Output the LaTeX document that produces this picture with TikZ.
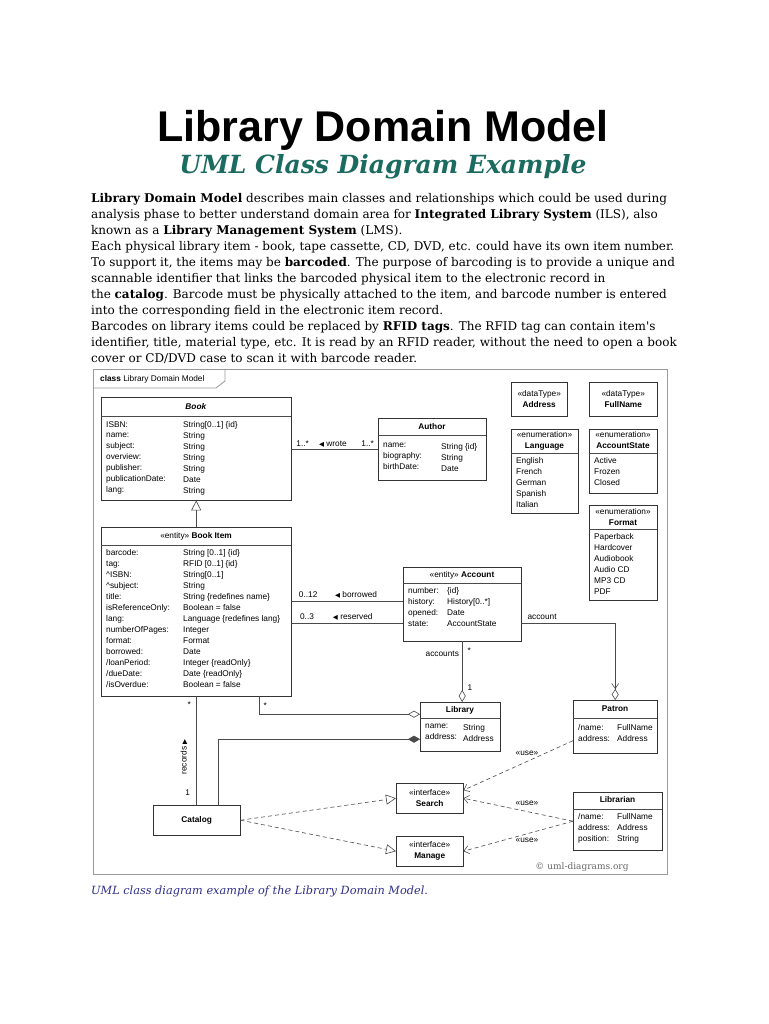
\documentclass[tikz,border=0pt]{standalone}
\usepackage{fontspec}
\setmainfont{DejaVu Serif}
\setsansfont{Liberation Sans}
\newfontfamily\symfont{DejaVu Sans}
\usetikzlibrary{arrows.meta}

\definecolor{titlegreen}{HTML}{1B6B60}
\definecolor{captionblue}{HTML}{2E2E8A}
\definecolor{umlgray}{HTML}{4A4A4A}
\definecolor{framegray}{HTML}{9A9A9A}

\newcommand\umlfont{\sffamily\fontsize{8.3}{11}\selectfont}
\newcommand\lefttri{{\symfont\fontsize{6.5}{6.5}\selectfont◀}}
\newcommand\righttri{{\symfont\fontsize{6.5}{6.5}\selectfont▶}}

\tikzset{
  umlbox/.style={draw=black!80, fill=white, inner sep=0pt, anchor=north west, font=\umlfont, align=center},
  umlhead/.style={font=\umlfont, inner sep=0pt, align=center, anchor=north, execute at begin node=\strut},
  umlattr/.style={font=\umlfont, inner sep=0pt, align=left, anchor=north west, execute at begin node=\strut},
  umllabel/.style={font=\umlfont, inner sep=0pt},
  umlline/.style={draw=umlgray, line width=0.6pt},
  umldash/.style={umlline, dash pattern=on 4pt off 3pt},
  generalize/.style={umlline, -{Triangle[open, length=10pt, width=10pt]}},
  aggregate/.style={umlline, -{Diamond[open, length=12pt, width=7pt]}},
  compose/.style={umlline, -{Diamond[length=12pt, width=7pt]}},
  realize/.style={umldash, -{Triangle[open, length=10pt, width=10pt]}},
  usedep/.style={umldash, -{Straight Barb[length=5pt, width=8pt]}},
}

\begin{document}
\begin{tikzpicture}[x=1pt, y=-1pt]
	\fill[white] (0,0) rectangle (768,1024);
	\useasboundingbox (0,0) rectangle (768,1024);

	% Title
	\node[font=\sffamily\bfseries\fontsize{43}{43}\selectfont, anchor=base] (title) at (383,142) {Library Domain Model};
	\node[font=\rmfamily\bfseries\itshape\fontsize{25}{25}\selectfont, text=titlegreen, anchor=base] (subtitle) at (383,174) {UML Class Diagram Example};

	% Description
	\node[font=\fontsize{12}{16}\selectfont, align=left, anchor=north west, inner sep=0pt, execute at begin node=\strut] (intro) at (91,193) {%
		\textbf{Library Domain Model} describes main classes and relationships which could be used during\\
		analysis phase to better understand domain area for \textbf{Integrated Library System} (ILS), also\\
		known as a \textbf{Library Management System} (LMS).\\
		Each physical library item - book, tape cassette, CD, DVD, etc. could have its own item number.\\
		To support it, the items may be \textbf{barcoded}. The purpose of barcoding is to provide a unique and\\
		scannable identifier that links the barcoded physical item to the electronic record in\\
		the \textbf{catalog}. Barcode must be physically attached to the item, and barcode number is entered\\
		into the corresponding field in the electronic item record.\\
		Barcodes on library items could be replaced by \textbf{RFID tags}. The RFID tag can contain item\textquotesingle s\\
		identifier, title, material type, etc. It is read by an RFID reader, without the need to open a book\\
		cover or CD/DVD case to scan it with barcode reader.};

	% Frame
	\draw[framegray, line width=1pt] (93,369) rectangle (667,874);
	\draw[framegray, line width=0.8pt] (93,388) -- (216,388) -- (225,381) -- (225,369);
	\node[umllabel, anchor=west] (frametitle) at (100,379) {\textbf{class} Library Domain Model};

	% Book
	\node[umlbox, minimum width=190pt, minimum height=103pt] (book) at (101,397) {};
	\node[umlhead] at (196,402) {\textbf{\textit{Book}}};
	\draw[umlgray] (101,416) -- (291,416);
	\node[umlattr] at (106,421) {ISBN:\\name:\\subject:\\overview:\\publisher:\\publicationDate:\\lang:};
	\node[umlattr] at (183,421) {String[0..1] \{id\}\\String\\String\\String\\String\\Date\\String};

	% Book Item
	\node[umlbox, minimum width=190pt, minimum height=169pt] (bookitem) at (101,527) {};
	\node[umlhead] at (196,531) {«entity» \textbf{Book Item}};
	\draw[umlgray] (101,545) -- (291,545);
	\node[umlattr] at (106,549) {barcode:\\tag:\\\textasciicircum ISBN:\\\textasciicircum subject:\\title:\\isReferenceOnly:\\lang:\\numberOfPages:\\format:\\borrowed:\\/loanPeriod:\\/dueDate:\\/isOverdue:};
	\node[umlattr] at (183,549) {String [0..1] \{id\}\\RFID [0..1] \{id\}\\String[0..1]\\String\\String \{redefines name\}\\Boolean = false\\Language \{redefines lang\}\\Integer\\Format\\Date\\Integer \{readOnly\}\\Date \{readOnly\}\\Boolean = false};

	% Author
	\node[umlbox, minimum width=108pt, minimum height=62pt] (author) at (378,418) {};
	\node[umlhead] at (432,422) {\textbf{Author}};
	\draw[umlgray] (378,435) -- (486,435);
	\node[umlattr] at (383,443) {name:\\biography:\\birthDate:};
	\node[umlattr] at (441,443) {String \{id\}\\String\\Date};

	% Data types
	\node[umlbox, minimum width=56pt, minimum height=34pt] (address) at (511,382) {«dataType»\\\textbf{Address}};
	\node[umlbox, minimum width=68pt, minimum height=34pt] (fullname) at (589,382) {«dataType»\\\textbf{FullName}};

	% Enumerations
	\node[umlbox, minimum width=67pt, minimum height=84pt] (language) at (511,429) {};
	\node[umlhead] at (544.5,431) {«enumeration»\\\textbf{Language}};
	\draw[umlgray] (511,453) -- (578,453);
	\node[umlattr] at (516,457) {English\\French\\German\\Spanish\\Italian};

	\node[umlbox, minimum width=68pt, minimum height=64pt] (accountstate) at (589,429) {};
	\node[umlhead] at (623,431) {«enumeration»\\\textbf{AccountState}};
	\draw[umlgray] (589,453) -- (657,453);
	\node[umlattr] at (594,457) {Active\\Frozen\\Closed};

	\node[umlbox, minimum width=68pt, minimum height=95pt] (format) at (589,505) {};
	\node[umlhead] at (623,508) {«enumeration»\\\textbf{Format}};
	\draw[umlgray] (589,529) -- (657,529);
	\node[umlattr] at (594,533) {Paperback\\Hardcover\\Audiobook\\Audio CD\\MP3 CD\\PDF};

	% Account
	\node[umlbox, minimum width=118pt, minimum height=74pt] (account) at (403,567) {};
	\node[umlhead] at (462,570) {«entity» \textbf{Account}};
	\draw[umlgray] (403,583) -- (521,583);
	\node[umlattr] at (408,587) {number:\\history:\\opened:\\state:};
	\node[umlattr] at (447,587) {\{id\}\\History[0..*]\\Date\\AccountState};

	% Library
	\node[umlbox, minimum width=80pt, minimum height=49pt] (library) at (420,702) {};
	\node[umlhead] at (460,705) {\textbf{Library}};
	\draw[umlgray] (420,718) -- (500,718);
	\node[umlattr] at (425,724) {name:\\address:};
	\node[umlattr] at (463,724) {String\\Address};

	% Patron
	\node[umlbox, minimum width=84pt, minimum height=53pt] (patron) at (573,700) {};
	\node[umlhead] at (615,704) {\textbf{Patron}};
	\draw[umlgray] (573,718) -- (657,718);
	\node[umlattr] at (578,724) {/name:\\address:};
	\node[umlattr] at (617,724) {FullName\\Address};

	% Librarian
	\node[umlbox, minimum width=89pt, minimum height=58pt] (librarian) at (573,792) {};
	\node[umlhead] at (617.5,795) {\textbf{Librarian}};
	\draw[umlgray] (573,809) -- (662,809);
	\node[umlattr] at (578,813) {/name:\\address:\\position:};
	\node[umlattr] at (617,813) {FullName\\Address\\String};

	% Interfaces and Catalog
	\node[umlbox, minimum width=67pt, minimum height=30pt] (search) at (396,783) {«interface»\\\textbf{Search}};
	\node[umlbox, minimum width=67pt, minimum height=30pt] (manage) at (396,836) {«interface»\\\textbf{Manage}};
	\node[umlbox, minimum width=87pt, minimum height=30pt] (catalog) at (153,805) {\textbf{Catalog}};

	% Book Item is a Book
	\draw[generalize] (bookitem.north) -- (book.south);

	% wrote
	\draw[umlline] (book.east |- author.west) -- node[umllabel, pos=0.13, above=2pt] {1..*} node[umllabel, pos=0.48, above=2pt] {\lefttri\ wrote} node[umllabel, pos=0.88, above=2pt] {1..*} (author.west);

	% borrowed, reserved
	\coordinate (borrowedEnd) at ([yshift=3pt]account.west);
	\coordinate (reservedEnd) at ([yshift=-19pt]account.west);
	\draw[umlline] (bookitem.east |- borrowedEnd) -- node[umllabel, pos=0.15, above=3pt] {0..12} node[umllabel, pos=0.58, above=3pt] {\lefttri\ borrowed} (borrowedEnd);
	\draw[umlline] (bookitem.east |- reservedEnd) -- node[umllabel, pos=0.14, above=3pt] {0..3} node[umllabel, pos=0.55, above=3pt] {\lefttri\ reserved} (reservedEnd);

	% account
	\coordinate (accountStart) at ([yshift=-19pt]account.east);
	\draw[umlline, -{Straight Barb[length=5pt, width=7pt] Diamond[open, length=11pt, width=7pt]}] (accountStart) -| node[umllabel, pos=0.11, above=3pt] {account} (patron.north);

	% accounts
	\draw[aggregate] (account.south) -- node[umllabel, pos=0.2, left=3pt] {accounts} node[umllabel, pos=0.16, right=5pt] {*} node[umllabel, pos=0.77, right=5pt] {1} (account.south |- library.north);

	% Library has Book Items and a Catalog
	\coordinate (itemsEnd) at ([yshift=12.5pt]library.west);
	\coordinate (catalogEnd) at ([yshift=-12.5pt]library.west);
	\draw[aggregate] ([xshift=63pt]bookitem.south) |- node[umllabel, pos=0.25, right=4pt] {*} (itemsEnd);
	\draw[compose] ([xshift=22pt]catalog.north) |- (catalogEnd);

	% records
	\draw[umlline] (bookitem.south) -- node[umllabel, pos=0.08, left=5pt] {*} node[umllabel, pos=0.89, left=6pt] {1} (bookitem.south |- catalog.north);
	\node[umllabel, rotate=90] (records) at (184,757) {records \righttri};

	% Catalog realizes Search and Manage
	\draw[realize] (catalog.east) -- (search.west);
	\draw[realize] (catalog.east) -- (manage.west);

	% use
	\coordinate (patronUse) at ([yshift=-14pt]patron.west);
	\coordinate (searchTop) at ([yshift=8pt]search.east);
	\draw[usedep] (patronUse) -- node[umllabel, pos=0.42, above=6pt] {«use»} (searchTop);
	\draw[usedep] (librarian.west) -- node[umllabel, pos=0.42, above=6pt] {«use»} (search.east);
	\draw[usedep] (librarian.west) -- node[umllabel, pos=0.42, below=4pt] {«use»} (manage.east);

	% Copyright and caption
	\node[font=\fontsize{9}{9}\selectfont, text=black!60, anchor=base] (copyright) at (582,869) {© uml-diagrams.org};
	\node[font=\itshape\fontsize{11.3}{14}\selectfont, text=captionblue, anchor=base west, inner sep=0pt] (caption) at (91,894) {UML class diagram example of the Library Domain Model.};
\end{tikzpicture}
\end{document}
